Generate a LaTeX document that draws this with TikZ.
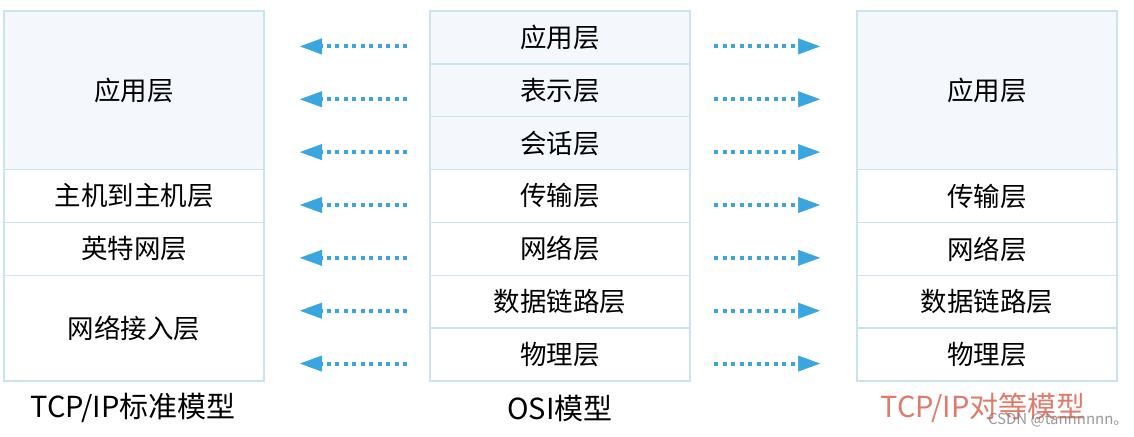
\documentclass[tikz,border=0pt]{standalone}
\usepackage{fontspec}
\setmainfont{Noto Sans CJK SC}
\usetikzlibrary{positioning,arrows.meta}
\definecolor{layerline}{HTML}{C8E4EE}
\definecolor{layerfill}{HTML}{F4F8FC}
\definecolor{arrowblue}{HTML}{3AA6E0}
\definecolor{peerred}{HTML}{E07A6A}
\tikzset{
  layer/.style={draw=layerline, line width=1.5pt, minimum width=260pt,
    minimum height=52.86pt, inner sep=0pt, outer sep=0pt,
    font=\fontsize{26.5}{28}\selectfont},
  upper/.style={layer, fill=layerfill},
  flow/.style={arrowblue, line width=4pt, dash pattern=on 4pt off 4.5pt,
    -{Triangle[length=22pt,width=16pt,line width=0.5pt]}},
  title/.style={font=\fontsize{29}{30}\selectfont}
}
\begin{document}
\begin{tikzpicture}[x=1pt,y=-1pt]
        \useasboundingbox (0,0) rectangle (1134,436);

        % TCP/IP standard model
        \node[upper, minimum height=158.6pt] (l1) at (134,90.3) {应用层};
        \node[layer, below=0pt of l1] (l2) {主机到主机层};
        \node[layer, below=0pt of l2] (l3) {英特网层};
        \node[layer, below=0pt of l3, minimum height=105.7pt] (l4) {网络接入层};

        % OSI model
        \node[upper] (m1) at (560,37.4) {应用层};
        \node[upper, below=0pt of m1] (m2) {表示层};
        \node[upper, below=0pt of m2] (m3) {会话层};
        \node[layer, below=0pt of m3] (m4) {传输层};
        \node[layer, below=0pt of m4] (m5) {网络层};
        \node[layer, below=0pt of m5] (m6) {数据链路层};
        \node[layer, below=0pt of m6] (m7) {物理层};

        % TCP/IP peer model
        \node[upper, minimum height=158.6pt] (r1) at (987,90.3) {应用层};
        \node[layer, below=0pt of r1] (r2) {传输层};
        \node[layer, below=0pt of r2] (r3) {网络层};
        \node[layer, below=0pt of r3] (r4) {数据链路层};
        \node[layer, below=0pt of r4] (r5) {物理层};

        \foreach \i in {1,...,7} {
            \draw[flow] ([xshift=-23pt,yshift=-9pt]m\i.west) -- ([xshift=-130pt,yshift=-9pt]m\i.west);
            \draw[flow] ([xshift=24pt,yshift=-9pt]m\i.east) -- ([xshift=130pt,yshift=-9pt]m\i.east);
        }

        \node[title] (t1) at (133,408) {TCP/IP标准模型};
        \node[title] (t2) at (560,408) {OSI模型};
        \node[title, text=peerred] (t3) at (983,408) {TCP/IP对等模型};
        \node[text=gray, opacity=0.8, font=\fontsize{15}{16}\selectfont, anchor=east] (mark) at (1132,420) {CSDN @tannnnnn。};
\end{tikzpicture}
\end{document}
